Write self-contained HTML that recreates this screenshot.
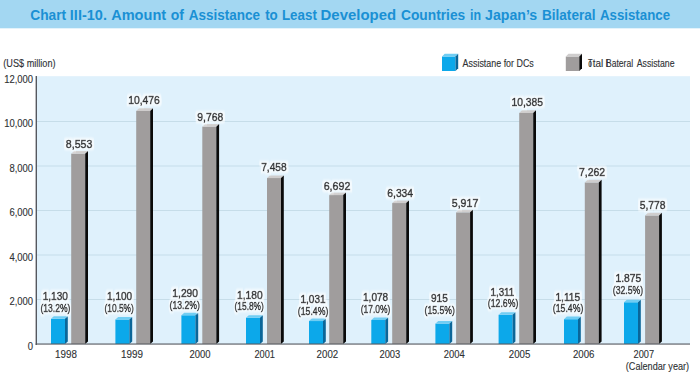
<!DOCTYPE html>
<html><head><meta charset="utf-8"><title>Chart III-10</title>
<style>html,body{margin:0;padding:0;background:#fff;width:700px;height:372px;overflow:hidden}
text{font-family:"Liberation Sans",sans-serif}</style></head>
<body><svg width="700" height="372" viewBox="0 0 700 372" style="display:block" font-family="Liberation Sans, sans-serif"><defs><filter id="halo" x="-30%" y="-60%" width="160%" height="220%"><feMorphology in="SourceAlpha" operator="dilate" radius="1.8" result="d"/><feGaussianBlur in="d" stdDeviation="0.8" result="b"/><feFlood flood-color="#ffffff" flood-opacity="0.7"/><feComposite in2="b" operator="in" result="w"/><feMerge><feMergeNode in="w"/><feMergeNode in="SourceGraphic"/></feMerge></filter></defs><rect x="0" y="0" width="700" height="28.3" fill="#a3d7f2"/><text transform="translate(30.24 19.80) scale(0.9815 1)" font-size="14.00" font-weight="bold" fill="#1a90d4">Chart</text><text transform="translate(69.83 19.80) scale(1.0371 1)" font-size="14.00" font-weight="bold" fill="#1a90d4">III-10.</text><text transform="translate(111.19 19.80) scale(1.0400 1)" font-size="14.00" font-weight="bold" fill="#1a90d4">Amount</text><text transform="translate(170.75 19.80) scale(1.0004 1)" font-size="14.00" font-weight="bold" fill="#1a90d4">of</text><text transform="translate(188.71 19.80) scale(0.9664 1)" font-size="14.00" font-weight="bold" fill="#1a90d4">Assistance</text><text transform="translate(265.14 19.80) scale(0.9523 1)" font-size="14.00" font-weight="bold" fill="#1a90d4">to</text><text transform="translate(281.90 19.80) scale(0.9559 1)" font-size="14.00" font-weight="bold" fill="#1a90d4">Least</text><text transform="translate(320.55 19.80) scale(1.0683 1)" font-size="14.00" font-weight="bold" fill="#1a90d4">Developed</text><text transform="translate(400.99 19.80) scale(0.9838 1)" font-size="14.00" font-weight="bold" fill="#1a90d4">Countries</text><text transform="translate(469.93 19.80) scale(0.8872 1)" font-size="14.00" font-weight="bold" fill="#1a90d4">in</text><text transform="translate(485.09 19.80) scale(1.0107 1)" font-size="14.00" font-weight="bold" fill="#1a90d4">Japan’s</text><text transform="translate(541.89 19.80) scale(0.9734 1)" font-size="14.00" font-weight="bold" fill="#1a90d4">Bilateral</text><text transform="translate(599.97 19.80) scale(0.9493 1)" font-size="14.00" font-weight="bold" fill="#1a90d4">Assistance</text><rect x="37.00" y="76.20" width="653.00" height="267.80" fill="#dff1fc"/><rect x="37.00" y="299.00" width="653.00" height="1" fill="#c6dde9"/><rect x="37.00" y="254.50" width="653.00" height="1" fill="#c6dde9"/><rect x="37.00" y="210.00" width="653.00" height="1" fill="#c6dde9"/><rect x="37.00" y="165.50" width="653.00" height="1" fill="#c6dde9"/><rect x="37.00" y="121.00" width="653.00" height="1" fill="#c6dde9"/><rect x="51.00" y="318.86" width="14.00" height="25.14" fill="#0ca8ea"/><polygon points="51.00,318.86 65.00,318.86 67.80,316.26 53.80,316.26" fill="#70cdf3"/><polygon points="65.00,318.86 67.80,316.26 67.80,341.40 65.00,344.00" fill="#0a6699"/><rect x="71.20" y="153.70" width="14.00" height="190.30" fill="#a09d9d"/><polygon points="71.20,153.70 85.20,153.70 88.00,151.10 74.00,151.10" fill="#cfcdcd"/><polygon points="85.20,153.70 88.00,151.10 88.00,341.40 85.20,344.00" fill="#0a0a0a"/><rect x="115.40" y="319.52" width="14.00" height="24.48" fill="#0ca8ea"/><polygon points="115.40,319.52 129.40,319.52 132.20,316.92 118.20,316.92" fill="#70cdf3"/><polygon points="129.40,319.52 132.20,316.92 132.20,341.40 129.40,344.00" fill="#0a6699"/><rect x="136.20" y="110.91" width="14.00" height="233.09" fill="#a09d9d"/><polygon points="136.20,110.91 150.20,110.91 153.00,108.31 139.00,108.31" fill="#cfcdcd"/><polygon points="150.20,110.91 153.00,108.31 153.00,341.40 150.20,344.00" fill="#0a0a0a"/><rect x="181.40" y="315.30" width="14.00" height="28.70" fill="#0ca8ea"/><polygon points="181.40,315.30 195.40,315.30 198.20,312.70 184.20,312.70" fill="#70cdf3"/><polygon points="195.40,315.30 198.20,312.70 198.20,341.40 195.40,344.00" fill="#0a6699"/><rect x="202.30" y="126.66" width="14.00" height="217.34" fill="#a09d9d"/><polygon points="202.30,126.66 216.30,126.66 219.10,124.06 205.10,124.06" fill="#cfcdcd"/><polygon points="216.30,126.66 219.10,124.06 219.10,341.40 216.30,344.00" fill="#0a0a0a"/><rect x="246.00" y="317.75" width="14.00" height="26.25" fill="#0ca8ea"/><polygon points="246.00,317.75 260.00,317.75 262.80,315.14 248.80,315.14" fill="#70cdf3"/><polygon points="260.00,317.75 262.80,315.14 262.80,341.40 260.00,344.00" fill="#0a6699"/><rect x="267.00" y="178.06" width="14.00" height="165.94" fill="#a09d9d"/><polygon points="267.00,178.06 281.00,178.06 283.80,175.46 269.80,175.46" fill="#cfcdcd"/><polygon points="281.00,178.06 283.80,175.46 283.80,341.40 281.00,344.00" fill="#0a0a0a"/><rect x="309.00" y="321.06" width="14.00" height="22.94" fill="#0ca8ea"/><polygon points="309.00,321.06 323.00,321.06 325.80,318.46 311.80,318.46" fill="#70cdf3"/><polygon points="323.00,321.06 325.80,318.46 325.80,341.40 323.00,344.00" fill="#0a6699"/><rect x="329.20" y="195.10" width="14.00" height="148.90" fill="#a09d9d"/><polygon points="329.20,195.10 343.20,195.10 346.00,192.50 332.00,192.50" fill="#cfcdcd"/><polygon points="343.20,195.10 346.00,192.50 346.00,341.40 343.20,344.00" fill="#0a0a0a"/><rect x="371.30" y="320.01" width="14.00" height="23.99" fill="#0ca8ea"/><polygon points="371.30,320.01 385.30,320.01 388.10,317.41 374.10,317.41" fill="#70cdf3"/><polygon points="385.30,320.01 388.10,317.41 388.10,341.40 385.30,344.00" fill="#0a6699"/><rect x="392.20" y="203.07" width="14.00" height="140.93" fill="#a09d9d"/><polygon points="392.20,203.07 406.20,203.07 409.00,200.47 395.00,200.47" fill="#cfcdcd"/><polygon points="406.20,203.07 409.00,200.47 409.00,341.40 406.20,344.00" fill="#0a0a0a"/><rect x="435.40" y="323.64" width="14.00" height="20.36" fill="#0ca8ea"/><polygon points="435.40,323.64 449.40,323.64 452.20,321.04 438.20,321.04" fill="#70cdf3"/><polygon points="449.40,323.64 452.20,321.04 452.20,341.40 449.40,344.00" fill="#0a6699"/><rect x="456.10" y="212.35" width="14.00" height="131.65" fill="#a09d9d"/><polygon points="456.10,212.35 470.10,212.35 472.90,209.75 458.90,209.75" fill="#cfcdcd"/><polygon points="470.10,212.35 472.90,209.75 472.90,341.40 470.10,344.00" fill="#0a0a0a"/><rect x="498.60" y="314.83" width="14.00" height="29.17" fill="#0ca8ea"/><polygon points="498.60,314.83 512.60,314.83 515.40,312.23 501.40,312.23" fill="#70cdf3"/><polygon points="512.60,314.83 515.40,312.23 515.40,341.40 512.60,344.00" fill="#0a6699"/><rect x="519.20" y="112.93" width="14.00" height="231.07" fill="#a09d9d"/><polygon points="519.20,112.93 533.20,112.93 536.00,110.33 522.00,110.33" fill="#cfcdcd"/><polygon points="533.20,112.93 536.00,110.33 536.00,341.40 533.20,344.00" fill="#0a0a0a"/><rect x="564.00" y="319.19" width="14.00" height="24.81" fill="#0ca8ea"/><polygon points="564.00,319.19 578.00,319.19 580.80,316.59 566.80,316.59" fill="#70cdf3"/><polygon points="578.00,319.19 580.80,316.59 580.80,341.40 578.00,344.00" fill="#0a6699"/><rect x="584.80" y="182.42" width="14.00" height="161.58" fill="#a09d9d"/><polygon points="584.80,182.42 598.80,182.42 601.60,179.82 587.60,179.82" fill="#cfcdcd"/><polygon points="598.80,182.42 601.60,179.82 601.60,341.40 598.80,344.00" fill="#0a0a0a"/><rect x="624.00" y="302.28" width="14.00" height="41.72" fill="#0ca8ea"/><polygon points="624.00,302.28 638.00,302.28 640.80,299.68 626.80,299.68" fill="#70cdf3"/><polygon points="638.00,302.28 640.80,299.68 640.80,341.40 638.00,344.00" fill="#0a6699"/><rect x="645.10" y="215.44" width="14.00" height="128.56" fill="#a09d9d"/><polygon points="645.10,215.44 659.10,215.44 661.90,212.84 647.90,212.84" fill="#cfcdcd"/><polygon points="659.10,215.44 661.90,212.84 661.90,341.40 659.10,344.00" fill="#0a0a0a"/><rect x="35.6" y="76" width="1.4" height="269" fill="#55585f"/><rect x="35.6" y="343.5" width="654.4" height="1.1" fill="#55585f"/><text transform="translate(27.81 349.50) scale(0.8600 1)" font-size="11.00" font-weight="normal" fill="#2e3134" stroke="#2e3134" stroke-width="0.12">0</text><text transform="translate(9.40 305.00) scale(0.8600 1)" font-size="11.00" font-weight="normal" fill="#2e3134" stroke="#2e3134" stroke-width="0.12">2,000</text><text transform="translate(9.40 260.50) scale(0.8600 1)" font-size="11.00" font-weight="normal" fill="#2e3134" stroke="#2e3134" stroke-width="0.12">4,000</text><text transform="translate(9.40 216.00) scale(0.8600 1)" font-size="11.00" font-weight="normal" fill="#2e3134" stroke="#2e3134" stroke-width="0.12">6,000</text><text transform="translate(9.40 171.50) scale(0.8600 1)" font-size="11.00" font-weight="normal" fill="#2e3134" stroke="#2e3134" stroke-width="0.12">8,000</text><text transform="translate(4.14 127.00) scale(0.8600 1)" font-size="11.00" font-weight="normal" fill="#2e3134" stroke="#2e3134" stroke-width="0.12">10,000</text><text transform="translate(4.14 82.50) scale(0.8600 1)" font-size="11.00" font-weight="normal" fill="#2e3134" stroke="#2e3134" stroke-width="0.12">12,000</text><text transform="translate(3.33 67.30) scale(0.8627 1)" font-size="10.60" font-weight="normal" fill="#2e3134" stroke="#2e3134" stroke-width="0.12">(US$ million)</text><text transform="translate(42.63 300.20) scale(0.9216 1)" font-size="11.00" font-weight="normal" fill="#2e3134" stroke="#2e3134" stroke-width="0.60" filter="url(#halo)">1,130</text><text transform="translate(40.47 311.80) scale(0.7779 1)" font-size="11.00" font-weight="normal" fill="#2e3134" stroke="#2e3134" stroke-width="0.60" filter="url(#halo)">(13.2%)</text><text transform="translate(107.04 300.10) scale(0.9102 1)" font-size="11.00" font-weight="normal" fill="#2e3134" stroke="#2e3134" stroke-width="0.60" filter="url(#halo)">1,100</text><text transform="translate(104.58 311.70) scale(0.7590 1)" font-size="11.00" font-weight="normal" fill="#2e3134" stroke="#2e3134" stroke-width="0.60" filter="url(#halo)">(10.5%)</text><text transform="translate(172.32 297.10) scale(0.9368 1)" font-size="11.00" font-weight="normal" fill="#2e3134" stroke="#2e3134" stroke-width="0.60" filter="url(#halo)">1,290</text><text transform="translate(169.56 308.70) scale(0.7913 1)" font-size="11.00" font-weight="normal" fill="#2e3134" stroke="#2e3134" stroke-width="0.60" filter="url(#halo)">(13.2%)</text><text transform="translate(237.02 298.50) scale(0.9292 1)" font-size="11.00" font-weight="normal" fill="#2e3134" stroke="#2e3134" stroke-width="0.60" filter="url(#halo)">1,180</text><text transform="translate(234.58 310.10) scale(0.7590 1)" font-size="11.00" font-weight="normal" fill="#2e3134" stroke="#2e3134" stroke-width="0.60" filter="url(#halo)">(15.8%)</text><text transform="translate(300.43 303.40) scale(0.9139 1)" font-size="11.00" font-weight="normal" fill="#2e3134" stroke="#2e3134" stroke-width="0.60" filter="url(#halo)">1,031</text><text transform="translate(297.86 315.00) scale(0.7913 1)" font-size="11.00" font-weight="normal" fill="#2e3134" stroke="#2e3134" stroke-width="0.60" filter="url(#halo)">(15.4%)</text><text transform="translate(363.03 301.20) scale(0.9156 1)" font-size="11.00" font-weight="normal" fill="#2e3134" stroke="#2e3134" stroke-width="0.60" filter="url(#halo)">1,078</text><text transform="translate(360.67 312.80) scale(0.7725 1)" font-size="11.00" font-weight="normal" fill="#2e3134" stroke="#2e3134" stroke-width="0.60" filter="url(#halo)">(17.0%)</text><text transform="translate(431.03 302.40) scale(0.9151 1)" font-size="11.00" font-weight="normal" fill="#2e3134" stroke="#2e3134" stroke-width="0.60" filter="url(#halo)">915</text><text transform="translate(424.56 314.00) scale(0.7887 1)" font-size="11.00" font-weight="normal" fill="#2e3134" stroke="#2e3134" stroke-width="0.60" filter="url(#halo)">(15.5%)</text><text transform="translate(490.45 295.70) scale(0.8948 1)" font-size="11.00" font-weight="normal" fill="#2e3134" stroke="#2e3134" stroke-width="0.60" filter="url(#halo)">1,311</text><text transform="translate(487.86 307.30) scale(0.7913 1)" font-size="11.00" font-weight="normal" fill="#2e3134" stroke="#2e3134" stroke-width="0.60" filter="url(#halo)">(12.6%)</text><text transform="translate(555.42 300.70) scale(0.9303 1)" font-size="11.00" font-weight="normal" fill="#2e3134" stroke="#2e3134" stroke-width="0.60" filter="url(#halo)">1,115</text><text transform="translate(552.86 312.30) scale(0.7913 1)" font-size="11.00" font-weight="normal" fill="#2e3134" stroke="#2e3134" stroke-width="0.60" filter="url(#halo)">(15.4%)</text><text transform="translate(615.51 281.90) scale(0.9380 1)" font-size="11.00" font-weight="normal" fill="#2e3134" stroke="#2e3134" stroke-width="0.60" filter="url(#halo)">1.875</text><text transform="translate(612.76 293.50) scale(0.7913 1)" font-size="11.00" font-weight="normal" fill="#2e3134" stroke="#2e3134" stroke-width="0.60" filter="url(#halo)">(32.5%)</text><text transform="translate(65.84 148.00) scale(0.9138 1)" font-size="11.60" font-weight="normal" fill="#2e3134" stroke="#2e3134" stroke-width="0.60" filter="url(#halo)">8,553</text><text transform="translate(128.21 104.20) scale(0.8919 1)" font-size="11.60" font-weight="normal" fill="#2e3134" stroke="#2e3134" stroke-width="0.60" filter="url(#halo)">10,476</text><text transform="translate(197.31 120.70) scale(0.8935 1)" font-size="11.60" font-weight="normal" fill="#2e3134" stroke="#2e3134" stroke-width="0.60" filter="url(#halo)">9,768</text><text transform="translate(261.18 170.70) scale(0.8772 1)" font-size="11.60" font-weight="normal" fill="#2e3134" stroke="#2e3134" stroke-width="0.60" filter="url(#halo)">7,458</text><text transform="translate(323.66 189.60) scale(0.9190 1)" font-size="11.60" font-weight="normal" fill="#2e3134" stroke="#2e3134" stroke-width="0.60" filter="url(#halo)">6,692</text><text transform="translate(387.28 196.90) scale(0.8897 1)" font-size="11.60" font-weight="normal" fill="#2e3134" stroke="#2e3134" stroke-width="0.60" filter="url(#halo)">6,334</text><text transform="translate(451.78 206.70) scale(0.9149 1)" font-size="11.60" font-weight="normal" fill="#2e3134" stroke="#2e3134" stroke-width="0.60" filter="url(#halo)">5,917</text><text transform="translate(511.41 106.00) scale(0.8913 1)" font-size="11.60" font-weight="normal" fill="#2e3134" stroke="#2e3134" stroke-width="0.60" filter="url(#halo)">10,385</text><text transform="translate(578.96 176.00) scale(0.9013 1)" font-size="11.60" font-weight="normal" fill="#2e3134" stroke="#2e3134" stroke-width="0.60" filter="url(#halo)">7,262</text><text transform="translate(639.69 209.20) scale(0.8910 1)" font-size="11.60" font-weight="normal" fill="#2e3134" stroke="#2e3134" stroke-width="0.60" filter="url(#halo)">5,778</text><text transform="translate(55.05 358.20) scale(0.8940 1)" font-size="11.00" font-weight="normal" fill="#2e3134" stroke="#2e3134" stroke-width="0.12">1998</text><text transform="translate(121.05 358.20) scale(0.8956 1)" font-size="11.00" font-weight="normal" fill="#2e3134" stroke="#2e3134" stroke-width="0.12">1999</text><text transform="translate(189.42 358.20) scale(0.8600 1)" font-size="11.00" font-weight="normal" fill="#2e3134" stroke="#2e3134" stroke-width="0.12">2000</text><text transform="translate(254.44 358.20) scale(0.8383 1)" font-size="11.00" font-weight="normal" fill="#2e3134" stroke="#2e3134" stroke-width="0.12">2001</text><text transform="translate(316.61 358.20) scale(0.8817 1)" font-size="11.00" font-weight="normal" fill="#2e3134" stroke="#2e3134" stroke-width="0.12">2002</text><text transform="translate(379.43 358.20) scale(0.8535 1)" font-size="11.00" font-weight="normal" fill="#2e3134" stroke="#2e3134" stroke-width="0.12">2003</text><text transform="translate(443.83 358.20) scale(0.8561 1)" font-size="11.00" font-weight="normal" fill="#2e3134" stroke="#2e3134" stroke-width="0.12">2004</text><text transform="translate(508.81 358.20) scale(0.8783 1)" font-size="11.00" font-weight="normal" fill="#2e3134" stroke="#2e3134" stroke-width="0.12">2005</text><text transform="translate(572.91 358.20) scale(0.8791 1)" font-size="11.00" font-weight="normal" fill="#2e3134" stroke="#2e3134" stroke-width="0.12">2006</text><text transform="translate(633.54 358.20) scale(0.8389 1)" font-size="11.00" font-weight="normal" fill="#2e3134" stroke="#2e3134" stroke-width="0.12">2007</text><text transform="translate(625.83 370.00) scale(0.8600 1)" font-size="10.60" font-weight="normal" fill="#2e3134" stroke="#2e3134" stroke-width="0.12">(Calendar year)</text><rect x="442.00" y="56.50" width="13.50" height="14.50" fill="#0ca8ea"/><polygon points="442.00,56.50 455.50,56.50 458.20,53.80 444.70,53.80" fill="#70cdf3"/><polygon points="455.50,56.50 458.20,53.80 458.20,68.30 455.50,71.00" fill="#0a6699"/><rect x="565.80" y="56.50" width="13.50" height="14.50" fill="#a09d9d"/><polygon points="565.80,56.50 579.30,56.50 582.00,53.80 568.50,53.80" fill="#cfcdcd"/><polygon points="579.30,56.50 582.00,53.80 582.00,68.30 579.30,71.00" fill="#0a0a0a"/><text transform="translate(462.58 66.80) scale(0.8572 1)" font-size="10.40" font-weight="normal" fill="#2e3134" stroke="#2e3134" stroke-width="0.12">Assistane for DCs</text><text transform="translate(588.03 66.80) scale(0.7142 1)" font-size="10.40" font-weight="normal" fill="#2e3134" stroke="#2e3134" stroke-width="0.12">T</text><text transform="translate(588.32 66.80) scale(0.6517 1)" font-size="10.40" font-weight="normal" fill="#2e3134" stroke="#2e3134" stroke-width="0.12">o</text><text transform="translate(592.75 66.80) scale(0.9575 1)" font-size="10.40" font-weight="normal" fill="#2e3134" stroke="#2e3134" stroke-width="0.12">tal</text><text transform="translate(606.00 66.80) scale(0.8248 1)" font-size="10.40" font-weight="normal" fill="#2e3134" stroke="#2e3134" stroke-width="0.12">Bateral</text><text transform="translate(605.43 66.80) scale(1.0940 1)" font-size="10.40" font-weight="normal" fill="#2e3134" stroke="#2e3134" stroke-width="0.12">l</text><text transform="translate(636.78 66.80) scale(0.8384 1)" font-size="10.40" font-weight="normal" fill="#2e3134" stroke="#2e3134" stroke-width="0.12">Assistane</text></svg></body></html>
